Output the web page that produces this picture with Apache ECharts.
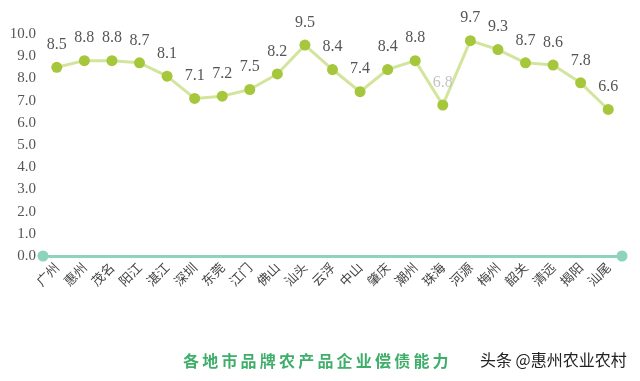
<!DOCTYPE html>
<html>
<head>
<meta charset="utf-8">
<script src="https://cdn.jsdelivr.net/npm/echarts@6/dist/echarts.min.js"></script>
<style>
  html, body { margin: 0; padding: 0; background: #fff; }
  #chart { width: 640px; height: 381px; }
</style>
</head>
<body>
<div id="chart"></div>
<script>
// cities along the x axis
const cities = ["广州", "惠州", "茂名", "阳江", "湛江", "深圳", "东莞", "江门", "佛山", "汕头",
  "云浮", "中山", "肇庆", "潮州", "珠海", "河源", "梅州", "韶关", "清远", "揭阳", "汕尾"];
// solvency scores
const scores = [8.5, 8.8, 8.8, 8.7, 8.1, 7.1, 7.2, 7.5, 8.2, 9.5,
  8.4, 7.4, 8.4, 8.8, 6.8, 9.7, 9.3, 8.7, 8.6, 7.8, 6.6];
// labels drawn faded in the source
const fadedLabels = ["珠海"];
const yTicks = [0, 1, 2, 3, 4, 5, 6, 7, 8, 9, 10];
const titleText = "各地市品牌农产品企业偿债能力";

const chart = echarts.init(document.getElementById("chart"));

const seriesData = scores.map((v, i) => {
  if (fadedLabels.includes(cities[i])) {
    return { value: v, label: { color: "#c4c4c4" } };
  }
  return v;
});

chart.setOption({
  animation: false,
  grid: { left: 43, right: 18, top: 34, bottom: 125 },
  xAxis: {
    type: "category",
    data: cities,
    boundaryGap: true,
    axisLine: {
      show: true,
      symbol: ["circle", "circle"],
      symbolSize: [11, 11],
      lineStyle: { color: "#8ed3bd", width: 3 },
    },
    axisTick: { show: false },
    axisLabel: {
      rotate: 45,
      interval: 0,
      margin: 9,
      color: "#444",
      fontSize: 13,
      fontFamily: "Noto Sans CJK SC",
    },
  },
  yAxis: {
    type: "value",
    min: yTicks[0],
    max: yTicks[yTicks.length - 1],
    interval: 1,
    splitLine: { show: false },
    axisLine: { show: false },
    axisTick: { show: false },
    axisLabel: {
      color: "#555",
      fontSize: 15,
      margin: 7,
      fontFamily: "Liberation Serif",
      formatter: (v) => v.toFixed(1),
    },
  },
  series: [
    {
      type: "line",
      data: seriesData,
      symbol: "circle",
      symbolSize: 11,
      itemStyle: { color: "#a6c63c" },
      lineStyle: { color: "#d3e59d", width: 3 },
      label: {
        show: true,
        position: "top",
        distance: 9,
        color: "#555",
        fontSize: 16,
        fontFamily: "Liberation Serif",
        formatter: (p) => p.value.toFixed(1),
      },
    },
  ],
  graphic: [
    {
      type: "text",
      left: 183,
      top: 353,
      style: {
        // thin spaces to get the wide tracking of the original
        text: titleText.split("").join("\u2009"),
        fill: "#3fae6a",
        font: "bold 16px 'Noto Sans CJK SC'",
      },
    },
    {
      type: "text",
      left: 480,
      top: 352,
      style: {
        text: "头条 @惠州农业农村",
        fill: "#222",
        font: "16px 'Noto Sans CJK SC'",
      },
    },
  ],
});
</script>
</body>
</html>
